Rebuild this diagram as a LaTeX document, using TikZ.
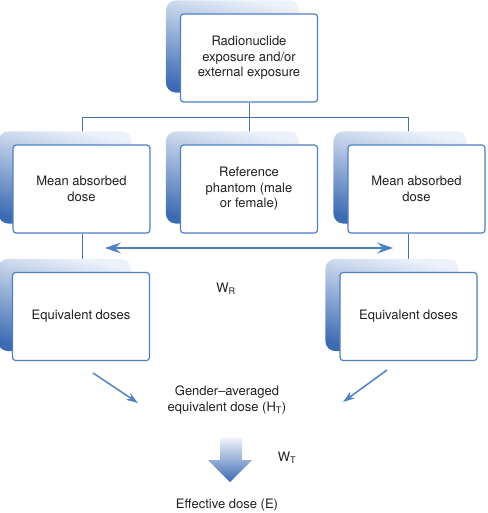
\documentclass[tikz,border=0pt]{standalone}
\usepackage{fontspec}
\setmainfont{TeX Gyre Heros}
\usetikzlibrary{arrows.meta,backgrounds}

\definecolor{boxblue}{HTML}{4F80C4}
\definecolor{lineblue}{HTML}{4470AE}
\definecolor{shadedark}{HTML}{3D6BB3}
\definecolor{shademid}{HTML}{8AA9D8}
\definecolor{shadelight}{HTML}{EDF2FA}
\definecolor{inkgrey}{HTML}{231F20}

\begin{document}
\begin{tikzpicture}
[x=1pt, y=-1pt, font=\fontsize{13}{15.5}\selectfont, text=inkgrey,
dosebox/.style={rectangle, draw=boxblue, line width=1.2pt, rounded corners=3pt, fill=white, align=center, inner sep=0pt, minimum width=137pt, minimum height=88pt},
shadowbox/.style={rounded corners=10pt, top color=shadelight, middle color=shademid, bottom color=shadedark, shading angle=-12},
link/.style={draw=lineblue, line width=0.7pt},
twoway/.style={draw=boxblue, line width=1.5pt, {Stealth[length=16pt,width=11pt,inset=6pt]}-{Stealth[length=16pt,width=11pt,inset=6pt]}},
flow/.style={draw=boxblue, line width=1.5pt, -{Stealth[length=12pt,width=8pt,inset=4pt]}}]

\useasboundingbox (0,0) rectangle (487,513);

\node[dosebox] (exposure) at (249,58) {Radionuclide\\exposure and/or\\external exposure};

\node[dosebox] (meanL) at (81.5,189) {Mean absorbed\\dose};
\node[dosebox] (phantom) at (249,189) {Reference\\phantom (male\\or female)};
\node[dosebox] (meanR) at (416.5,189) {Mean absorbed\\dose};

\node[dosebox] (equivL) at (81,316.5) {Equivalent doses};
\node[dosebox] (equivR) at (408.5,316.5) {Equivalent doses};

\coordinate (hubL) at (82,117);
\coordinate (hubR) at (408,117);

\begin{scope}[on background layer]
  \draw[link] (exposure.south) -- (exposure.south |- hubL);
  \draw[link] (hubL) -- (hubR);
  \draw[link] (hubL) -- (hubL |- meanL.north);
  \draw[link] (exposure.south |- hubL) -- (phantom.north);
  \draw[link] (hubR) -- (hubR |- meanR.north);
  \draw[link] (hubL |- meanL.south) -- (hubL |- equivL.north);
  \draw[link] (hubR |- meanR.south) -- (hubR |- equivR.north);

  \foreach \n in {exposure,meanL,phantom,meanR,equivL,equivR} {
    \shade[shadowbox] ([xshift=-14pt,yshift=13pt]\n.north west) rectangle ([xshift=-19pt,yshift=10pt]\n.south east);
  }
\end{scope}

\coordinate (wrL) at (105,248);
\coordinate (wrR) at (393,248);
\draw[twoway] (wrL) -- (wrR);
\node (wr) at (226,289) {W\textsubscript{R}};

\node[align=center] (gender) at (227,400) {Gender--averaged\\equivalent dose (H\textsubscript{T})};
\coordinate (inL) at (93,373);
\coordinate (tipL) at (138,403);
\coordinate (inR) at (387,370);
\coordinate (tipR) at (343,402);
\draw[flow] (inL) -- (tipL);
\draw[flow] (inR) -- (tipR);

% big arrow down to the effective dose
\shade[top color=shadelight, bottom color=shadedark] (220,438) -- (242,438) -- (242,460) -- (252,460) -- (230,482) -- (208,460) -- (220,460) -- cycle;
\node (wt) at (287,458) {W\textsubscript{T}};

\node (effective) at (227,505) {Effective dose (E)};
\end{tikzpicture}
\end{document}
